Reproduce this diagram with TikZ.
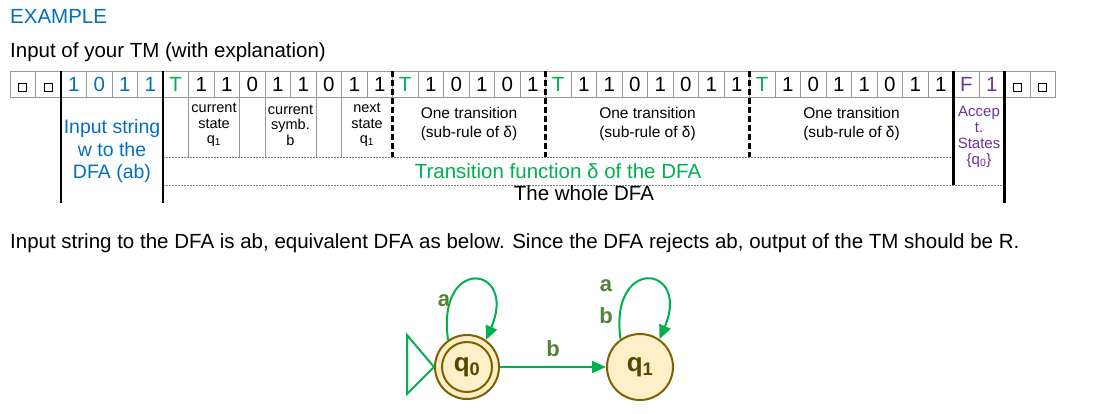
\documentclass[tikz,border=0pt]{standalone}
\usepackage{fontspec}
\setmainfont{Liberation Sans}
\usetikzlibrary{arrows.meta}
\definecolor{tblue}{HTML}{0070C0}
\definecolor{tgreen}{HTML}{00B050}
\definecolor{tpurple}{HTML}{7030A0}
\definecolor{lgreen}{HTML}{548235}
\definecolor{sfill}{HTML}{FDEFC8}
\definecolor{sdraw}{HTML}{7F6000}
\newcommand{\fs}[1]{\fontsize{#1}{#1}\selectfont}
\begin{document}
\begin{tikzpicture}[x=1pt,y=-1pt,
  cellline/.style={draw=gray!80,line width=0.8pt},
  thick line/.style={line width=2.2pt,black},
  thickdash/.style={line width=2.2pt,black,dash pattern=on 6pt off 3pt},
  thindash/.style={gray,line width=0.8pt,dash pattern=on 2pt off 1pt},
  sym/.style={font=\fs{20.5}, inner sep=0pt},
  blank/.style={draw=black,line width=0.6pt,minimum size=8pt,inner sep=0pt},
  expl/.style={font=\fs{15.5},align=center,inner sep=0pt},
  small/.style={font=\fs{14.5},align=center,inner sep=0pt},
  state/.style={circle,draw=sdraw,fill=sfill,line width=2pt,minimum size=64pt,inner sep=0pt,font=\bfseries\fs{26},text=sdraw!70!black},
  tr/.style={draw=tgreen,line width=2pt,-{Triangle[length=14pt,width=12pt]}},
  tl/.style={text=lgreen,font=\bfseries\fs{22},inner sep=0pt}]
\useasboundingbox (0,0) rectangle (1108,414);
% headers
\node[anchor=west,text=tblue,font=\fs{20.5},inner sep=0pt] (ex) at (10,16) {EXAMPLE};
\node[anchor=west,font=\fs{20.5},inner sep=0pt] (inp) at (10,52) {Input of your TM (with explanation)};
% tape
\draw[cellline] (10,71) -- (1055.5,71) (10,97) -- (1055.5,97);
\foreach \i in {0,...,41} \draw[cellline] ({10+25.5*\i},71) -- ({10+25.5*\i},97);
\foreach \i/\t/\c in {2/1/tblue,3/0/tblue,4/1/tblue,5/1/tblue,6/T/tgreen,
  7/1/black,8/1/black,9/0/black,10/1/black,11/1/black,12/0/black,13/1/black,14/1/black,
  15/T/tgreen,16/1/black,17/0/black,18/1/black,19/0/black,20/1/black,
  21/T/tgreen,22/1/black,23/1/black,24/0/black,25/1/black,26/0/black,27/1/black,28/1/black,
  29/T/tgreen,30/1/black,31/0/black,32/1/black,33/1/black,34/0/black,35/1/black,36/1/black,
  37/F/tpurple,38/1/tpurple}
  \node[sym,text=\c] (c\i) at ({22.75+25.5*\i},84) {\t};
\foreach \i in {0,1,39,40} \node[blank] (c\i) at ({22.75+25.5*\i},87) {};
% lower gray verticals
\foreach \x in {188.5,239.5,265,316,341.5} \draw[cellline] (\x,97) -- (\x,157);
% dashed horizontals
\draw[thindash] (163,157) -- (953.5,157);
\draw[thindash] (163,185.5) -- (1004.5,185.5);
% thick verticals
\draw[thick line] (61,71) -- (61,203);
\draw[thick line] (163,71) -- (163,203);
\draw[thick line] (953.5,71) -- (953.5,185.5);
\draw[thick line] (1004.5,71) -- (1004.5,203);
\foreach \x in {392.5,545.5,749.5} \draw[thickdash] (\x,71) -- (\x,157);
% explanations
\node[small] (cs) at (214,125) {current\\[1pt]state\\[1pt]q\textsubscript{1}};
\node[small] (cy) at (290.5,125) {current\\[1pt]symb.\\[1pt]b};
\node[small] (ns) at (367,125) {next\\[1pt]state\\[1pt]q\textsubscript{1}};
\node[expl] (o1) at (469,124) {One transition\\[4pt](sub-rule of δ)};
\node[expl] (o2) at (647.5,124) {One transition\\[4pt](sub-rule of δ)};
\node[expl] (o3) at (851.5,124) {One transition\\[4pt](sub-rule of δ)};
\node[text=tgreen,font=\fs{20.5},inner sep=0pt] (tf) at (558,163) [anchor=north] {Transition function δ of the DFA};
\node[font=\fs{20.5},inner sep=0pt] (wd) at (584,193) {The whole DFA};
\node[text=tblue,font=\fs{19.5},align=center,inner sep=0pt] (is) at (112,151) {Input string\\[3pt]w to the\\[3pt]DFA (ab)};
\node[text=tpurple,font=\fs{15},align=center,inner sep=0pt] (ac) at (979,137) {Accep\\[1pt]t.\\[1pt]States\\[1pt]\{q\textsubscript{0}\}};
% sentence
\node[anchor=west,font=\fs{20.5},inner sep=0pt] (sent) at (10,243) {Input string to the DFA is ab, equivalent DFA as below. Since the DFA rejects ab, output of the TM should be R.};
% DFA
\node[state] (q0) at (467,367) {};
\node[state,minimum size=50pt,fill=none] (q0i) at (467,367) {q\textsubscript{0}};
\node[state,minimum size=66pt] (q1) at (640,367) {q\textsubscript{1}};
\coordinate (s1) at (407,335);
\coordinate (s2) at (407,394);
\draw[tgreen,line width=2pt] (s1) -- (q0.west) -- (s2) -- cycle;
\draw[tr] (q0.east) -- node[tl,above=9pt] {b} (q1.west);
\draw[tr] (q0.125) .. controls (436,255) and (518,265) .. (q0.55);
\node[tl] (la) at (444,301) {a};
\draw[tr] (q1.125) .. controls (609,255) and (691,265) .. (q1.55);
\node[tl] (l1a) at (606,286) {a};
\node[tl] (l1b) at (606,316) {b};
\end{tikzpicture}
\end{document}
